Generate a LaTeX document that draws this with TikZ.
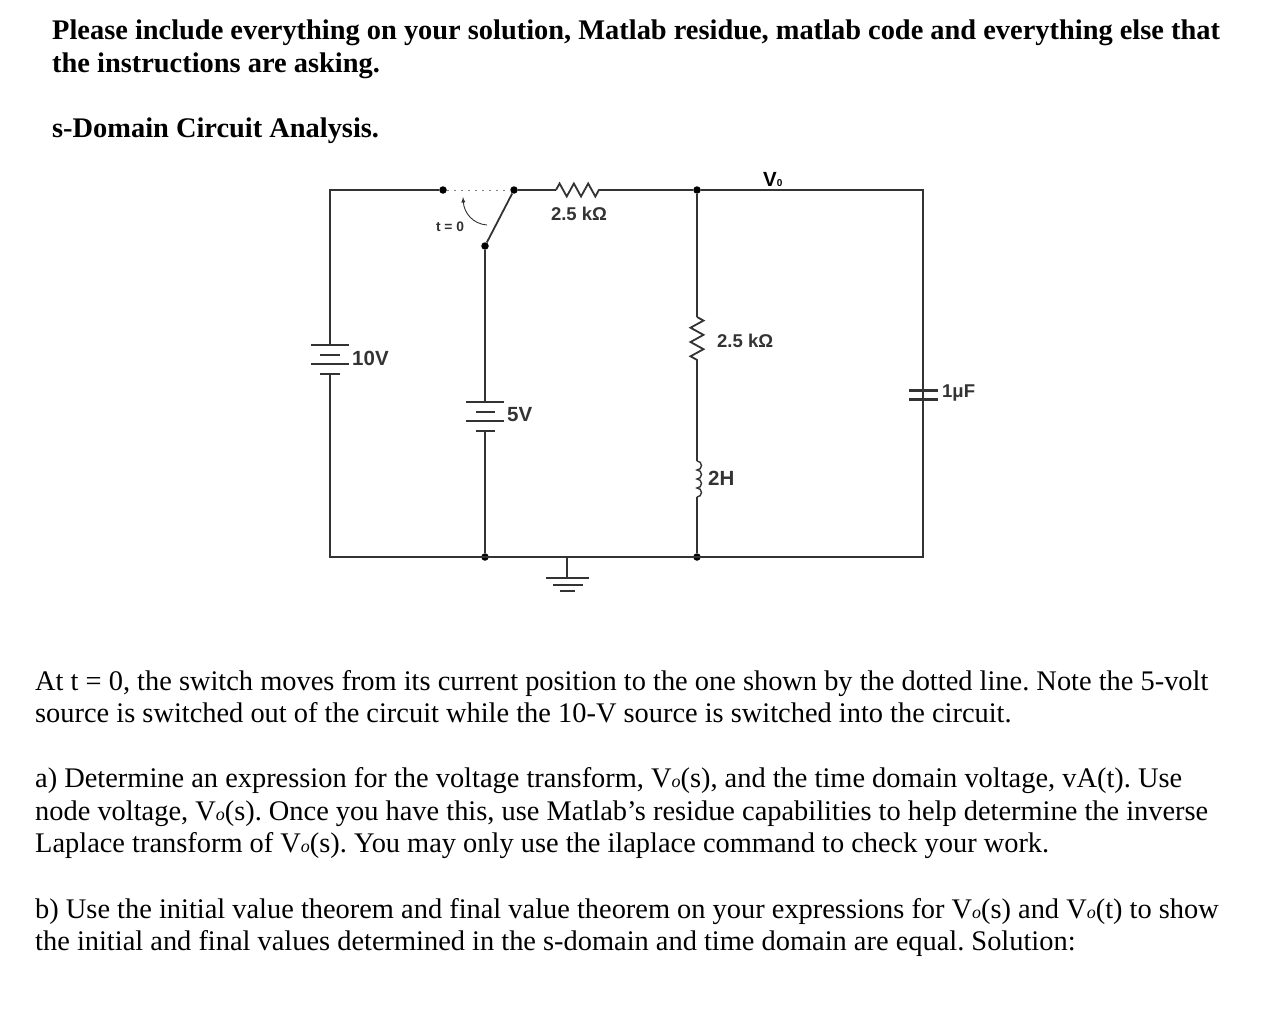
\documentclass[tikz,border=0pt]{standalone}
\usepackage{fontspec}
\setmainfont{Liberation Serif}
\newfontfamily\labelfont{Liberation Sans}
\usetikzlibrary{decorations.pathmorphing}
\definecolor{wirecolor}{HTML}{333333}
\newcommand{\vsub}{V{\fontsize{18}{18}\selectfont\textit{o}}}
\frenchspacing
\tikzset{
  wire/.style={draw=wirecolor, line width=1.8pt},
  plate/.style={draw=wirecolor, line width=1.7pt},
  capplate/.style={draw=wirecolor, line width=3pt},
  joint/.style={circle, fill=black, inner sep=0pt, minimum size=7.5pt},
  zigzagwire/.style={wire, decorate, decoration={zigzag, segment length=14.3pt, amplitude=6.5pt}},
  bodytext/.style={anchor=base west, inner sep=0pt, font=\fontsize{28.4}{32}\selectfont},
  headtext/.style={anchor=base west, inner sep=0pt, font=\fontsize{28.4}{32}\selectfont\bfseries},
  partlabel/.style={inner sep=0pt, text=wirecolor, font=\labelfont\bfseries\fontsize{20.5}{21}\selectfont},
  valuelabel/.style={inner sep=0pt, text=wirecolor, font=\labelfont\bfseries\fontsize{18.5}{19}\selectfont},
  smalllabel/.style={inner sep=0pt, text=wirecolor, font=\labelfont\bfseries\fontsize{13.8}{14}\selectfont}
}
\begin{document}
\begin{tikzpicture}[x=1pt, y=-1pt]
  \useasboundingbox[fill=white] (0, 0) rectangle (1280, 1030);

  \node[headtext] (head1) at (52, 40) {Please include everything on your solution, Matlab residue, matlab code and everything else that};
  \node[headtext] (head2) at (52, 73) {the instructions are asking.};
  \node[headtext] (head3) at (52, 138) {s-Domain Circuit Analysis.};

  \coordinate (topleft) at (330, 190);
  \coordinate (botleft) at (330, 557);
  \coordinate (topright) at (923, 190);
  \coordinate (botright) at (923, 557);
  \node[joint] (swleft) at (443, 190) {};
  \node[joint] (swright) at (514, 190) {};
  \node[joint] (swpivot) at (485, 246) {};
  \node[joint] (topmid) at (697, 190) {};
  \node[joint] (botmid) at (697, 557) {};
  \node[joint] (botsw) at (485, 557) {};

  % 10 V source
  \coordinate (tena) at (330, 345);
  \coordinate (tenb) at (330, 374);
  \draw[wire] (swleft) -- (topleft) -- (tena);
  \draw[wire] (tenb) -- (botleft) -- (botright) -- (topright) -- (topmid);
  \draw[plate] (311, 345) -- (349, 345);
  \draw[plate] (320, 355) -- (340, 355);
  \draw[plate] (311, 364) -- (349, 364);
  \draw[plate] (320, 374) -- (340, 374);
  \node[partlabel, anchor=west] (labten) at (352, 358) {10V};

  % switch
  \draw[wire] (swpivot) -- (swright);
  \draw[gray, line width=0.9pt, dash pattern=on 2pt off 5pt] (swleft) -- (swright);
  \coordinate (arca) at (487, 225);
  \coordinate (arcb) at (463, 197);
  \draw[wirecolor, line width=0.9pt, -latex] (arca) .. controls (473, 224) and (464, 213) .. (arcb);
  \node[smalllabel] (labt) at (450, 227) {t = 0};

  % 5 V source
  \coordinate (fivea) at (485, 402);
  \coordinate (fiveb) at (485, 431);
  \draw[wire] (swpivot) -- (fivea);
  \draw[wire] (fiveb) -- (botsw);
  \draw[plate] (466, 402) -- (504, 402);
  \draw[plate] (476, 412) -- (495, 412);
  \draw[plate] (466, 421) -- (504, 421);
  \draw[plate] (476, 431) -- (495, 431);
  \node[partlabel, anchor=west] (labfive) at (507, 415) {5V};

  % series resistor
  \coordinate (rsa) at (556, 190);
  \coordinate (rsb) at (600, 190);
  \draw[wire] (swright) -- (rsa);
  \draw[zigzagwire] (rsa) -- (rsb);
  \draw[wire] (rsb) -- (topmid);
  \node[valuelabel] (labrs) at (579, 214) {2.5 kΩ};

  % shunt resistor and inductor
  \coordinate (rpa) at (697, 317);
  \coordinate (rpb) at (697, 360);
  \coordinate (lpa) at (697, 461);
  \coordinate (lpb) at (697, 497);
  \draw[wire] (topmid) -- (rpa);
  \draw[zigzagwire] (rpa) -- (rpb);
  \draw[wire] (rpb) -- (lpa);
  \draw[wire, line width=1.4pt] (lpa) arc (-90:90:4.5) arc (-90:90:4.5) arc (-90:90:4.5) arc (-90:90:4.5);
  \draw[wire] (lpb) -- (botmid);
  \node[valuelabel, anchor=west] (labrp) at (717, 341) {2.5 kΩ};
  \node[partlabel, anchor=west] (labl) at (708, 478) {2H};

  % capacitor
  \coordinate (capa) at (923, 390);
  \coordinate (capb) at (923, 399);
  \draw[capplate] (909, 390) -- (938, 390);
  \draw[capplate] (909, 399) -- (938, 399);
  \node[valuelabel, anchor=west] (labcap) at (942, 393) {1μF};

  % ground
  \coordinate (gnda) at (567, 557);
  \coordinate (gndb) at (567, 578);
  \draw[wire] (gnda) -- (gndb);
  \draw[plate] (546, 578) -- (589, 578);
  \draw[plate] (553, 585) -- (583, 585);
  \draw[plate] (560, 591) -- (575, 591);

  \node[partlabel, text=black, anchor=base west] (labvo) at (763, 186) {V{\fontsize{10}{10}\selectfont 0}};

  \node[bodytext] (para1) at (35, 690) {At t = 0, the switch moves from its current position to the one shown by the dotted line. Note the 5-volt};
  \node[bodytext] (para2) at (35, 722) {source is switched out of the circuit while the 10-V source is switched into the circuit.};
  \node[bodytext] (para3) at (35, 787) {a) Determine an expression for the voltage transform, \vsub(s), and the time domain voltage, vA(t). Use};
  \node[bodytext] (para4) at (35, 820) {node voltage, \vsub(s). Once you have this, use Matlab’s residue capabilities to help determine the inverse};
  \node[bodytext] (para5) at (35, 852) {Laplace transform of \vsub(s). You may only use the ilaplace command to check your work.};
  \node[bodytext] (para6) at (35, 918) {b) Use the initial value theorem and final value theorem on your expressions for \vsub(s) and \vsub(t) to show};
  \node[bodytext] (para7) at (35, 950) {the initial and final values determined in the s-domain and time domain are equal. Solution:};
\end{tikzpicture}
\end{document}
